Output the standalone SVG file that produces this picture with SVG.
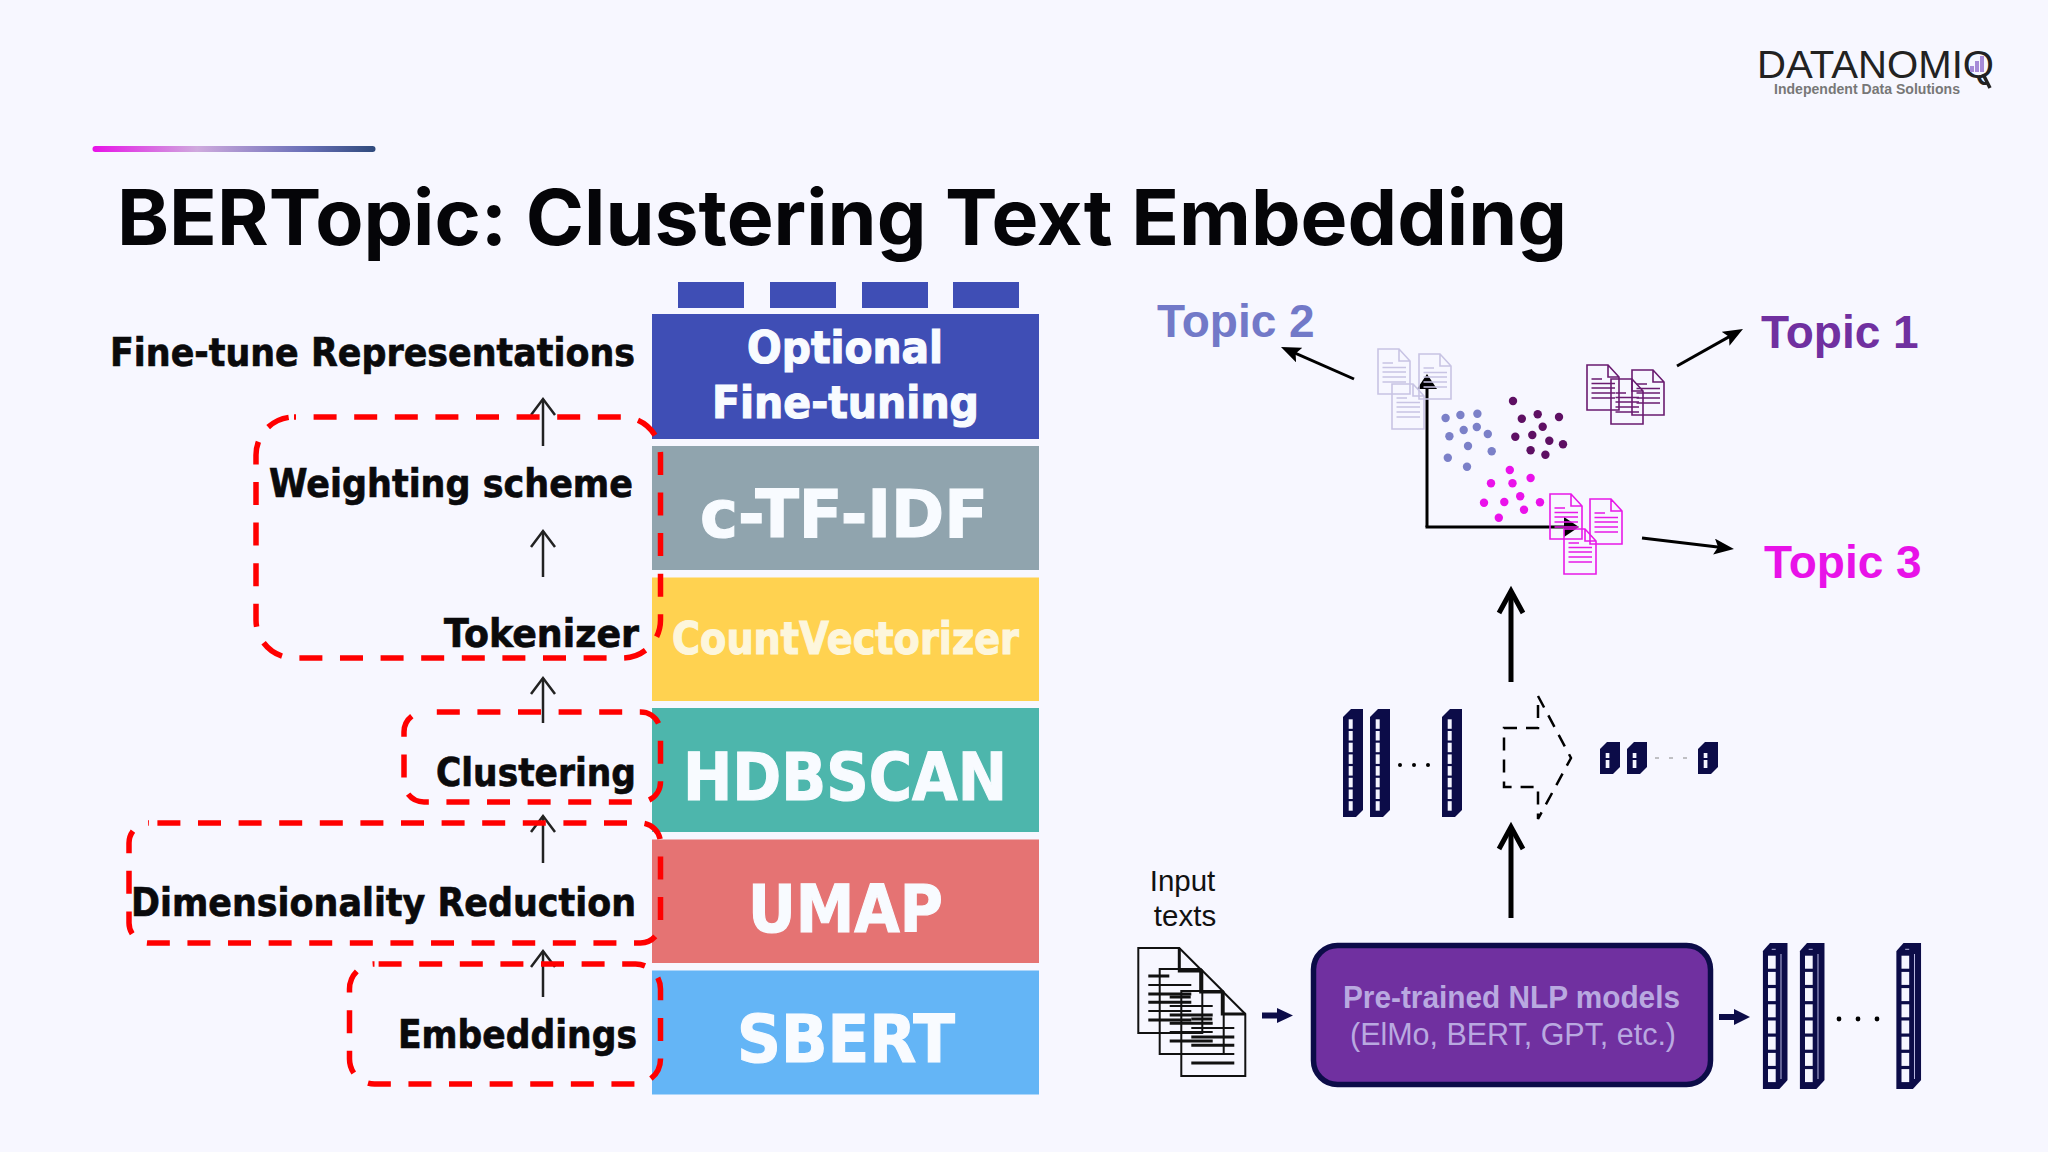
<svg xmlns="http://www.w3.org/2000/svg" xmlns:xlink="http://www.w3.org/1999/xlink" width="2048" height="1152" viewBox="0 0 2048 1152">
<style>
.dj{font-family:"DejaVu Sans",Verdana,sans-serif;font-weight:700}
.ar{font-family:"Liberation Sans",Arial,sans-serif}
.lb{font-size:39px;fill:#0a0a0c;stroke:#0a0a0c;stroke-width:.7}
.wt{fill:#f8fbff;stroke:#f8fbff;stroke-width:1.2;text-anchor:start}
.tp{font-size:46px;font-weight:700}
.rd{fill:none;stroke:#f00;stroke-width:5.5;stroke-dasharray:23 17.6}
.sd{fill:none;stroke:currentColor;stroke-width:1.6}
.td{fill:none;stroke:#111;stroke-width:2}
.cn{fill:none;stroke:#000}
.navy{fill:#0c0c48}
.cell{fill:#f5f5ff}
.dot{fill:#000}
.blue circle,.purp circle,.mag circle{r:4.2px}
.blue{fill:#7b80c8}.purp{fill:#5e0f63}.mag{fill:#ea12ea}
</style>
<defs>
<linearGradient id="bar"><stop offset="0" stop-color="#e812e8"/><stop offset=".37" stop-color="#cfaade"/><stop offset=".75" stop-color="#6a70b8"/><stop offset="1" stop-color="#2f4a7c"/></linearGradient>
<marker id="tri" markerUnits="userSpaceOnUse" viewBox="0 0 20 16" markerWidth="20" markerHeight="16" refX="12" refY="8" orient="auto"><path d="M0,0L20,8L0,16L4,8Z" fill="#000"/></marker>
<marker id="axis" markerUnits="userSpaceOnUse" viewBox="0 0 15 20" markerWidth="15" markerHeight="20" refX="9" refY="10" orient="auto"><path d="M0,0L15,10L0,20Z" fill="#000"/></marker>
<marker id="big" markerUnits="userSpaceOnUse" viewBox="-4 -16 32 32" markerWidth="32" markerHeight="32" refX="22" refY="0" orient="auto" overflow="visible"><path d="M0,-12L22,0L0,12" fill="none" stroke="#000" stroke-width="5"/></marker>
<marker id="thin" markerUnits="userSpaceOnUse" viewBox="-2 -14 22 28" markerWidth="22" markerHeight="28" refX="16" refY="0" orient="auto" overflow="visible"><path d="M0,-12L16,0L0,12" fill="none" stroke="#222" stroke-width="2.5"/></marker>
<symbol id="sdoc" width="34" height="47" viewBox="-1 -1 34 47" overflow="visible">
<path class="sd" d="M0,0H21L32,12V45H0ZM21,0V12H32"/>
<path class="sd" d="M4.5,14H15M4.5,18.5H28M4.5,23H28M4.5,28H28M4.5,33H28"/>
</symbol>
<symbol id="tdoc" width="66" height="87" viewBox="-1 -1 66 87" overflow="visible">
<path class="td" d="M0,0H41L64,23V85H0Z"/>
<path d="M41,0V23H64" fill="none" stroke="#111" stroke-width="3"/>
<path d="M10,28H31M10,46H53M10,54.3H53M10,72H53" fill="none" stroke="#111" stroke-width="3"/>
<path class="td" d="M10,37H53M10,63H53" stroke-width="1.6"/>
</symbol>
<symbol id="tall" width="25" height="146" viewBox="0 0 25 146">
<path class="navy" d="M0,8.3L7.3,0H25V137L16.7,146H0Z"/>
<g class="cell"><rect x="5.3" y="12.7" width="7.7" height="13"/><rect x="5.3" y="28.9" width="7.7" height="13"/><rect x="5.3" y="45.1" width="7.7" height="13"/><rect x="5.3" y="61.3" width="7.7" height="13"/><rect x="5.3" y="77.5" width="7.7" height="13"/><rect x="5.3" y="93.7" width="7.7" height="13"/><rect x="5.3" y="109.9" width="7.7" height="13"/><rect x="5.3" y="126.1" width="7.7" height="13"/></g>
<path d="M18.3,11V136" stroke="#b8b8e0" stroke-width="1"/><path d="M9,6.3H13" stroke="#b8b8e0" stroke-width="1"/>
</symbol>
<symbol id="mid" width="20" height="108" viewBox="0 0 20 108">
<path class="navy" d="M0,8L8,0H20V101L13,108H0Z"/>
<g class="cell"><rect x="5.7" y="10.3" width="4" height="9.5"/><rect x="5.7" y="22" width="4" height="9.5"/><rect x="5.7" y="33.7" width="4" height="9.5"/><rect x="5.7" y="45.4" width="4" height="9.5"/><rect x="5.7" y="57.1" width="4" height="9.5"/><rect x="5.7" y="68.8" width="4" height="9.5"/><rect x="5.7" y="80.5" width="4" height="9.5"/><rect x="5.7" y="92.2" width="4" height="9.5"/></g>
</symbol>
<symbol id="short" width="20" height="32" viewBox="0 0 20 32">
<path class="navy" d="M0,7L7,0H20V25L13,32H0Z"/>
<g class="cell"><rect x="5.7" y="11" width="3.7" height="5"/><rect x="5.7" y="18" width="3.7" height="8"/></g>
</symbol>
</defs>
<rect width="2048" height="1152" fill="#f7f7ff"/>
<g id="logo">
<text class="ar" x="1757" y="78" font-size="38" fill="#222" textLength="237" lengthAdjust="spacingAndGlyphs">DATANOMIQ</text>
<path d="M1972,72V66M1977,72V61M1982,72V56" stroke="#a78bd8" stroke-width="4"/>
<path d="M1983,74L1990,88" stroke="#222" stroke-width="3.5"/>
<text class="ar" x="1774" y="94" font-size="14.5" font-weight="700" fill="#777" textLength="186" lengthAdjust="spacingAndGlyphs">Independent Data Solutions</text>
</g>
<g id="title">
<rect x="92.5" y="146" width="283" height="6" rx="3" fill="url(#bar)"/>
<text x="117" y="245" font-family="Inter,'Liberation Sans',sans-serif" font-weight="700" font-size="77" fill="#050508" textLength="1450" lengthAdjust="spacingAndGlyphs">BERTopic: Clustering Text Embedding</text>
</g>
<g id="stack-tabs" fill="#3f4eb5"><rect x="678" y="282" width="66" height="26"/><rect x="770" y="282" width="66" height="26"/><rect x="862" y="282" width="66" height="26"/><rect x="953" y="282" width="66" height="26"/></g>
<g id="block-finetuning"><rect x="652" y="314" width="387" height="125" fill="#3f4eb5"/>
<text class="dj wt" x="747" y="363" font-size="44" textLength="196" lengthAdjust="spacingAndGlyphs">Optional</text>
<text class="dj wt" x="712" y="418" font-size="44" textLength="267" lengthAdjust="spacingAndGlyphs">Fine-tuning</text></g>
<g id="block-ctfidf"><rect x="652" y="446" width="387" height="124" fill="#90a4ae"/>
<text class="dj wt" x="700" y="537" font-size="66" textLength="288" lengthAdjust="spacingAndGlyphs">c-TF-IDF</text></g>
<g id="block-countvectorizer"><rect x="652" y="577.5" width="387" height="123.5" fill="#ffd250"/>
<text class="dj wt" x="672" y="653.5" font-size="44" textLength="347" lengthAdjust="spacingAndGlyphs" style="fill:#fdf6dc;stroke:#fdf6dc">CountVectorizer</text></g>
<g id="block-hdbscan"><rect x="652" y="708" width="387" height="124" fill="#4db6ac"/>
<text class="dj wt" x="683" y="800" font-size="66" textLength="324" lengthAdjust="spacingAndGlyphs">HDBSCAN</text></g>
<g id="block-umap"><rect x="652" y="839.5" width="387" height="123.5" fill="#e57373"/>
<text class="dj wt" x="748" y="931.5" font-size="66" textLength="195" lengthAdjust="spacingAndGlyphs">UMAP</text></g>
<g id="block-sbert"><rect x="652" y="970.5" width="387" height="124" fill="#64b5f6"/>
<text class="dj wt" x="737" y="1062" font-size="66" textLength="218" lengthAdjust="spacingAndGlyphs">SBERT</text></g>
<g id="label-finetune"><text class="dj lb" x="110" y="366" textLength="525" lengthAdjust="spacingAndGlyphs">Fine-tune Representations</text></g>
<g id="label-weighting"><text class="dj lb" x="269" y="497" textLength="364" lengthAdjust="spacingAndGlyphs">Weighting scheme</text></g>
<g id="label-tokenizer"><text class="dj lb" x="444" y="647" textLength="195" lengthAdjust="spacingAndGlyphs">Tokenizer</text></g>
<g id="label-clustering"><text class="dj lb" x="436" y="786" textLength="200" lengthAdjust="spacingAndGlyphs">Clustering</text></g>
<g id="label-dimred"><text class="dj lb" x="131" y="916" textLength="505" lengthAdjust="spacingAndGlyphs">Dimensionality Reduction</text></g>
<g id="label-embeddings"><text class="dj lb" x="398" y="1048" textLength="239" lengthAdjust="spacingAndGlyphs">Embeddings</text></g>
<g id="connectors" class="cn">
<g stroke="#222" stroke-width="2.5">
<path d="M543,446V399" marker-end="url(#thin)"/>
<path d="M543,577V531" marker-end="url(#thin)"/>
<path d="M543,723V678" marker-end="url(#thin)"/>
<path d="M543,863V816" marker-end="url(#thin)"/>
<path d="M543,997V951" marker-end="url(#thin)"/>
</g>
<g stroke-width="3">
<path d="M1354,379L1288.3,350.2" marker-end="url(#tri)"/>
<path d="M1677,366L1736,332.9" marker-end="url(#tri)"/>
<path d="M1642,538L1726,548" marker-end="url(#tri)"/>
</g>
<g stroke-width="5">
<path d="M1511,682V591" marker-end="url(#big)"/>
<path d="M1511,918V827" marker-end="url(#big)"/>
</g>
<path d="M1427,527V380" stroke-width="3" marker-end="url(#axis)"/>
<path d="M1425.5,527H1573" stroke-width="3" marker-end="url(#axis)"/>
</g>
<g id="block-arrows" class="navy">
<path d="M1262,1012.5H1277V1008L1293,1015.5L1277,1023V1018.5H1262Z"/>
<path d="M1719,1014H1734V1009L1750,1017L1734,1025V1020H1719Z"/>
</g>
<g id="frames">
<rect class="rd" x="256" y="417" width="404.5" height="241" rx="38" stroke-dashoffset="21"/>
<rect class="rd" x="404" y="712" width="256.5" height="90" rx="20" stroke-dashoffset="27.8"/>
<rect class="rd" x="129" y="823" width="531.5" height="120" rx="20" stroke-dashoffset="32.2"/>
<rect class="rd" x="349.5" y="964" width="311" height="120" rx="25" stroke-dashoffset="36.5"/>
</g>
<g id="cluster-dots">
<g class="blue"><circle cx="1445.6" cy="418"/><circle cx="1460.4" cy="415"/><circle cx="1477.4" cy="413.7"/><circle cx="1463.7" cy="430"/><circle cx="1476.8" cy="427"/><circle cx="1487.8" cy="434"/><circle cx="1449.4" cy="436.3"/><circle cx="1468" cy="446"/><circle cx="1491.7" cy="451.3"/><circle cx="1447.8" cy="457.7"/><circle cx="1467" cy="466.7"/></g>
<g class="purp"><circle cx="1513" cy="401"/><circle cx="1521.8" cy="418.7"/><circle cx="1537.7" cy="414.3"/><circle cx="1559" cy="417"/><circle cx="1542.7" cy="426.7"/><circle cx="1515.3" cy="436.7"/><circle cx="1532.3" cy="435"/><circle cx="1549.3" cy="440.7"/><circle cx="1563" cy="444.3"/><circle cx="1530.6" cy="450.3"/><circle cx="1545.4" cy="454.7"/></g>
<g class="mag"><circle cx="1509.8" cy="470"/><circle cx="1530.6" cy="478"/><circle cx="1491" cy="483.3"/><circle cx="1512.5" cy="483.3"/><circle cx="1520.2" cy="496.3"/><circle cx="1484" cy="502.7"/><circle cx="1504.3" cy="502"/><circle cx="1540" cy="502.3"/><circle cx="1524" cy="509.7"/><circle cx="1498.8" cy="517.7"/></g>
</g>
<g id="topic2-docs" color="#c8c4e4"><use href="#sdoc" x="1377" y="348"/><use href="#sdoc" x="1418" y="353"/><use href="#sdoc" x="1391" y="383"/></g>
<g id="topic1-docs" color="#6a1b70"><use href="#sdoc" x="1586" y="364"/><use href="#sdoc" x="1631" y="369"/><use href="#sdoc" x="1610" y="378"/></g>
<g id="topic3-docs" color="#e81ae8"><use href="#sdoc" x="1549" y="493"/><use href="#sdoc" x="1589" y="498"/><use href="#sdoc" x="1563" y="528"/></g>
<g id="topic2"><text class="ar tp" x="1157" y="337" fill="#7279c8">Topic 2</text></g>
<g id="topic1"><text class="ar tp" x="1761" y="348" fill="#7030a0">Topic 1</text></g>
<g id="topic3"><text class="ar tp" x="1764" y="578" fill="#e812e8">Topic 3</text></g>
<g id="reduced-vectors">
<use href="#short" x="1600" y="742"/><use href="#short" x="1627" y="742"/><use href="#short" x="1698" y="742"/>
<path d="M1655,758H1659M1669,758H1673M1683,758H1687" stroke="#888" stroke-width="1"/>
</g>
<g id="reducer"><path d="M1504,728H1538V696L1571,758L1538,819V787H1504Z" fill="none" stroke="#000" stroke-width="2.5" stroke-dasharray="13 9"/></g>
<g id="mid-vectors">
<use href="#mid" x="1343" y="709"/><use href="#mid" x="1370" y="709"/><use href="#mid" x="1442" y="709"/>
<circle class="dot" cx="1400" cy="765" r="2"/><circle class="dot" cx="1414" cy="765" r="2"/><circle class="dot" cx="1428" cy="765" r="2"/>
</g>
<g id="input-texts">
<text class="ar" x="1182.500" y="891" font-size="29.500" text-anchor="middle" fill="#111">Input</text>
<text class="ar" x="1185" y="926" font-size="29.500" text-anchor="middle" fill="#111">texts</text>
<use href="#tdoc" x="1137.3" y="947"/><use href="#tdoc" x="1158.7" y="968"/><use href="#tdoc" x="1180.3" y="990"/>
</g>
<g id="nlp-models">
<rect x="1313.5" y="945.5" width="397" height="139" rx="24" fill="#7030a0" stroke="#0c0c48" stroke-width="5.5"/>
<text class="ar" x="1343" y="1008" font-size="31" font-weight="700" fill="#b9a9e0" textLength="337" lengthAdjust="spacingAndGlyphs">Pre-trained NLP models</text>
<text class="ar" x="1350" y="1045" font-size="31" fill="#b9a9e0" textLength="326" lengthAdjust="spacingAndGlyphs">(ElMo, BERT, GPT, etc.)</text>
</g>
<g id="output-vectors">
<use href="#tall" x="1762.7" y="943"/><use href="#tall" x="1799.7" y="943"/><use href="#tall" x="1896.2" y="943"/>
<circle class="dot" cx="1839" cy="1019" r="2.4"/><circle class="dot" cx="1858" cy="1019" r="2.4"/><circle class="dot" cx="1877" cy="1019" r="2.4"/>
</g>
</svg>
